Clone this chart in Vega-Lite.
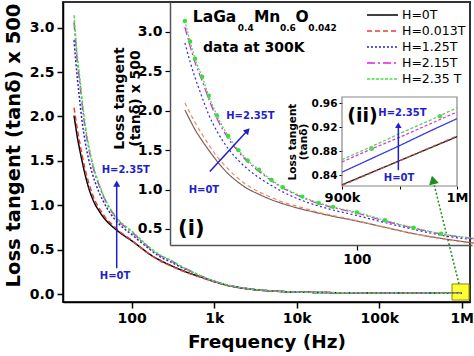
{
  "$schema": "https://vega.github.io/schema/vega-lite/v6.json",
  "width": 407,
  "height": 300,
  "autosize": {"type": "none"},
  "padding": {"left": 63, "top": 2, "right": 4, "bottom": 54},
  "background": "white",
  "config": {
    "view": {"stroke": "#333333", "strokeWidth": 2},
    "font": "DejaVu Sans",
    "axis": {"labelFont": "DejaVu Sans", "titleFont": "DejaVu Sans", "labelFontWeight": "bold", "titleFontWeight": "bold", "labelColor": "#000000", "titleColor": "#000000", "tickColor": "#000000", "domainColor": "#000000", "grid": false, "labelFlush": false, "labelOverlap": false},
    "legend": {"labelFont": "DejaVu Sans", "labelColor": "#000000"}
  },
  "datasets": {
    "curves": [
      {"s":"H=0T","f":20,"v":2.01},{"s":"H=0T","f":21,"v":1.88},{"s":"H=0T","f":22,"v":1.76},{"s":"H=0T","f":23.5,"v":1.62},{"s":"H=0T","f":25,"v":1.5},{"s":"H=0T","f":27,"v":1.36},{"s":"H=0T","f":30,"v":1.2},{"s":"H=0T","f":33,"v":1.09},{"s":"H=0T","f":36,"v":1.01},{"s":"H=0T","f":40,"v":0.94},{"s":"H=0T","f":45,"v":0.87},{"s":"H=0T","f":50,"v":0.82},{"s":"H=0T","f":60,"v":0.75},{"s":"H=0T","f":70,"v":0.7},{"s":"H=0T","f":80,"v":0.66},{"s":"H=0T","f":100,"v":0.6},{"s":"H=0T","f":130,"v":0.52},{"s":"H=0T","f":170,"v":0.44},{"s":"H=0T","f":220,"v":0.38},{"s":"H=0T","f":300,"v":0.32},{"s":"H=0T","f":400,"v":0.27},{"s":"H=0T","f":500,"v":0.235},{"s":"H=0T","f":700,"v":0.19},{"s":"H=0T","f":1000,"v":0.14},{"s":"H=0T","f":1500,"v":0.094},{"s":"H=0T","f":2000,"v":0.072},{"s":"H=0T","f":3000,"v":0.05},{"s":"H=0T","f":5000,"v":0.034},{"s":"H=0T","f":7000,"v":0.027},{"s":"H=0T","f":10000,"v":0.022},{"s":"H=0T","f":20000,"v":0.017},{"s":"H=0T","f":50000,"v":0.013},{"s":"H=0T","f":100000,"v":0.012},{"s":"H=0T","f":200000,"v":0.011},{"s":"H=0T","f":500000,"v":0.01},{"s":"H=0T","f":1000000,"v":0.009},
      {"s":"H=0.013T","f":20,"v":2.1},{"s":"H=0.013T","f":21,"v":1.97},{"s":"H=0.013T","f":22,"v":1.85},{"s":"H=0.013T","f":23.5,"v":1.7},{"s":"H=0.013T","f":25,"v":1.57},{"s":"H=0.013T","f":27,"v":1.42},{"s":"H=0.013T","f":30,"v":1.26},{"s":"H=0.013T","f":33,"v":1.14},{"s":"H=0.013T","f":36,"v":1.05},{"s":"H=0.013T","f":40,"v":0.97},{"s":"H=0.013T","f":45,"v":0.9},{"s":"H=0.013T","f":50,"v":0.84},{"s":"H=0.013T","f":60,"v":0.77},{"s":"H=0.013T","f":70,"v":0.71},{"s":"H=0.013T","f":80,"v":0.67},{"s":"H=0.013T","f":100,"v":0.605},{"s":"H=0.013T","f":130,"v":0.52},{"s":"H=0.013T","f":170,"v":0.44},{"s":"H=0.013T","f":220,"v":0.375},{"s":"H=0.013T","f":300,"v":0.315},{"s":"H=0.013T","f":400,"v":0.265},{"s":"H=0.013T","f":500,"v":0.23},{"s":"H=0.013T","f":700,"v":0.185},{"s":"H=0.013T","f":1000,"v":0.137},{"s":"H=0.013T","f":1500,"v":0.093},{"s":"H=0.013T","f":2000,"v":0.072},{"s":"H=0.013T","f":3000,"v":0.05},{"s":"H=0.013T","f":5000,"v":0.034},{"s":"H=0.013T","f":7000,"v":0.027},{"s":"H=0.013T","f":10000,"v":0.022},{"s":"H=0.013T","f":20000,"v":0.017},{"s":"H=0.013T","f":50000,"v":0.013},{"s":"H=0.013T","f":100000,"v":0.012},{"s":"H=0.013T","f":200000,"v":0.011},{"s":"H=0.013T","f":500000,"v":0.01},{"s":"H=0.013T","f":1000000,"v":0.009},
      {"s":"H=1.25T","f":20,"v":2.86},{"s":"H=1.25T","f":21,"v":2.62},{"s":"H=1.25T","f":22,"v":2.42},{"s":"H=1.25T","f":23.5,"v":2.17},{"s":"H=1.25T","f":25,"v":1.95},{"s":"H=1.25T","f":27,"v":1.74},{"s":"H=1.25T","f":30,"v":1.52},{"s":"H=1.25T","f":33,"v":1.37},{"s":"H=1.25T","f":36,"v":1.26},{"s":"H=1.25T","f":40,"v":1.15},{"s":"H=1.25T","f":45,"v":1.05},{"s":"H=1.25T","f":50,"v":0.97},{"s":"H=1.25T","f":60,"v":0.86},{"s":"H=1.25T","f":70,"v":0.79},{"s":"H=1.25T","f":80,"v":0.74},{"s":"H=1.25T","f":100,"v":0.67},{"s":"H=1.25T","f":130,"v":0.58},{"s":"H=1.25T","f":170,"v":0.495},{"s":"H=1.25T","f":220,"v":0.42},{"s":"H=1.25T","f":300,"v":0.36},{"s":"H=1.25T","f":400,"v":0.3},{"s":"H=1.25T","f":500,"v":0.26},{"s":"H=1.25T","f":700,"v":0.198},{"s":"H=1.25T","f":1000,"v":0.143},{"s":"H=1.25T","f":1500,"v":0.097},{"s":"H=1.25T","f":2000,"v":0.075},{"s":"H=1.25T","f":3000,"v":0.052},{"s":"H=1.25T","f":5000,"v":0.035},{"s":"H=1.25T","f":7000,"v":0.027},{"s":"H=1.25T","f":10000,"v":0.022},{"s":"H=1.25T","f":20000,"v":0.017},{"s":"H=1.25T","f":50000,"v":0.013},{"s":"H=1.25T","f":100000,"v":0.012},{"s":"H=1.25T","f":200000,"v":0.011},{"s":"H=1.25T","f":500000,"v":0.01},{"s":"H=1.25T","f":1000000,"v":0.009},
      {"s":"H=2.15T","f":20,"v":3.06},{"s":"H=2.15T","f":21,"v":2.82},{"s":"H=2.15T","f":22,"v":2.61},{"s":"H=2.15T","f":23.5,"v":2.38},{"s":"H=2.15T","f":25,"v":2.15},{"s":"H=2.15T","f":27,"v":1.9},{"s":"H=2.15T","f":30,"v":1.65},{"s":"H=2.15T","f":33,"v":1.48},{"s":"H=2.15T","f":36,"v":1.35},{"s":"H=2.15T","f":40,"v":1.23},{"s":"H=2.15T","f":45,"v":1.11},{"s":"H=2.15T","f":50,"v":1.02},{"s":"H=2.15T","f":60,"v":0.9},{"s":"H=2.15T","f":70,"v":0.82},{"s":"H=2.15T","f":80,"v":0.77},{"s":"H=2.15T","f":100,"v":0.7},{"s":"H=2.15T","f":130,"v":0.6},{"s":"H=2.15T","f":170,"v":0.51},{"s":"H=2.15T","f":220,"v":0.435},{"s":"H=2.15T","f":300,"v":0.375},{"s":"H=2.15T","f":400,"v":0.31},{"s":"H=2.15T","f":500,"v":0.265},{"s":"H=2.15T","f":700,"v":0.2},{"s":"H=2.15T","f":1000,"v":0.145},{"s":"H=2.15T","f":1500,"v":0.097},{"s":"H=2.15T","f":2000,"v":0.075},{"s":"H=2.15T","f":3000,"v":0.052},{"s":"H=2.15T","f":5000,"v":0.035},{"s":"H=2.15T","f":7000,"v":0.027},{"s":"H=2.15T","f":10000,"v":0.022},{"s":"H=2.15T","f":20000,"v":0.017},{"s":"H=2.15T","f":50000,"v":0.013},{"s":"H=2.15T","f":100000,"v":0.012},{"s":"H=2.15T","f":200000,"v":0.011},{"s":"H=2.15T","f":500000,"v":0.01},{"s":"H=2.15T","f":1000000,"v":0.009},
      {"s":"H=2.35 T","f":20,"v":3.14},{"s":"H=2.35 T","f":21,"v":2.88},{"s":"H=2.35 T","f":22,"v":2.66},{"s":"H=2.35 T","f":23.5,"v":2.43},{"s":"H=2.35 T","f":25,"v":2.19},{"s":"H=2.35 T","f":27,"v":1.94},{"s":"H=2.35 T","f":30,"v":1.68},{"s":"H=2.35 T","f":33,"v":1.5},{"s":"H=2.35 T","f":36,"v":1.37},{"s":"H=2.35 T","f":40,"v":1.25},{"s":"H=2.35 T","f":45,"v":1.12},{"s":"H=2.35 T","f":50,"v":1.03},{"s":"H=2.35 T","f":60,"v":0.91},{"s":"H=2.35 T","f":70,"v":0.83},{"s":"H=2.35 T","f":80,"v":0.78},{"s":"H=2.35 T","f":100,"v":0.71},{"s":"H=2.35 T","f":130,"v":0.61},{"s":"H=2.35 T","f":170,"v":0.515},{"s":"H=2.35 T","f":220,"v":0.44},{"s":"H=2.35 T","f":300,"v":0.38},{"s":"H=2.35 T","f":400,"v":0.31},{"s":"H=2.35 T","f":500,"v":0.265},{"s":"H=2.35 T","f":700,"v":0.2},{"s":"H=2.35 T","f":1000,"v":0.145},{"s":"H=2.35 T","f":1500,"v":0.097},{"s":"H=2.35 T","f":2000,"v":0.075},{"s":"H=2.35 T","f":3000,"v":0.052},{"s":"H=2.35 T","f":5000,"v":0.035},{"s":"H=2.35 T","f":7000,"v":0.027},{"s":"H=2.35 T","f":10000,"v":0.022},{"s":"H=2.35 T","f":20000,"v":0.017},{"s":"H=2.35 T","f":50000,"v":0.013},{"s":"H=2.35 T","f":100000,"v":0.012},{"s":"H=2.35 T","f":200000,"v":0.011},{"s":"H=2.35 T","f":500000,"v":0.01},{"s":"H=2.35 T","f":1000000,"v":0.009}
    ],
    "hf": [
      {"s":"H=0T","f":900000,"v":0.824},{"s":"H=0T","f":925000,"v":0.844},{"s":"H=0T","f":950000,"v":0.864},{"s":"H=0T","f":975000,"v":0.884},{"s":"H=0T","f":1000000,"v":0.904},
      {"s":"H=0.013T","f":900000,"v":0.823},{"s":"H=0.013T","f":925000,"v":0.8435},{"s":"H=0.013T","f":950000,"v":0.864},{"s":"H=0.013T","f":975000,"v":0.8845},{"s":"H=0.013T","f":1000000,"v":0.905},
      {"s":"H=1.25T","f":900000,"v":0.845},{"s":"H=1.25T","f":925000,"v":0.867},{"s":"H=1.25T","f":950000,"v":0.889},{"s":"H=1.25T","f":975000,"v":0.912},{"s":"H=1.25T","f":1000000,"v":0.934},
      {"s":"H=2.15T","f":900000,"v":0.862},{"s":"H=2.15T","f":925000,"v":0.883},{"s":"H=2.15T","f":950000,"v":0.903},{"s":"H=2.15T","f":975000,"v":0.924},{"s":"H=2.15T","f":1000000,"v":0.945},
      {"s":"H=2.35 T","f":900000,"v":0.866},{"s":"H=2.35 T","f":925000,"v":0.887},{"s":"H=2.35 T","f":950000,"v":0.909},{"s":"H=2.35 T","f":975000,"v":0.93},{"s":"H=2.35 T","f":1000000,"v":0.952}
    ],
    "hfm": [
      {"s":"H=2.35 T","f":925800,"v":0.884},{"s":"H=2.35 T","f":985200,"v":0.938}
    ]
  },
  "layer": [
    {
      "layer": [
        {
          "data": {"values": [{}]},
          "mark": {"type": "rect", "fill": "#ffff33", "stroke": "#8c8c00", "strokeWidth": 1},
          "encoding": {"x": {"datum": 763000}, "x2": {"datum": 1226000}, "y": {"datum": 0.113}, "y2": {"datum": -0.068}}
        },
        {
          "data": {"name": "curves"},
          "mark": {"type": "line", "interpolate": "monotone"},
          "encoding": {
            "x": {"field": "f", "type": "quantitative", "scale": {"type": "log", "domain": [14.7, 1260000], "nice": false},
              "axis": {"orient": "bottom", "values": [100, 1000, 10000, 100000, 1000000], "labelExpr": "datum.value >= 1000000 ? '1M' : datum.value >= 1000 ? (datum.value / 1000) + 'k' : '' + datum.value", "labelFontSize": 14, "tickSize": 6, "tickWidth": 1.5, "domainWidth": 1.5, "labelPadding": 3, "title": "Frequency (Hz)", "titleFontSize": 18.5, "titlePadding": 7}},
            "y": {"field": "v", "type": "quantitative", "scale": {"domain": [-0.09, 3.29], "nice": false, "zero": false},
              "axis": {"orient": "left", "values": [0, 0.5, 1, 1.5, 2, 2.5, 3], "format": ".1f", "labelFontSize": 14, "tickSize": 6, "tickWidth": 1.5, "domainWidth": 1.5, "labelPadding": 3, "title": "Loss tangent (tanδ) x 500", "titleFontSize": 19.5, "titlePadding": 6, "titleY": 143}},
            "color": {"field": "s", "type": "nominal",
              "scale": {"domain": ["H=0T", "H=0.013T", "H=1.25T", "H=2.15T", "H=2.35 T"], "range": ["#000000", "#e23b3b", "#2323c8", "#e020e0", "#3de83d"]},
              "legend": {"orient": "none", "legendX": 311, "legendY": 4.5, "title": null, "symbolType": "M-2.07,0H2.07", "symbolSize": 225, "symbolStrokeWidth": 1.5, "labelFontSize": 12.5, "labelFontWeight": "normal", "labelOffset": 11, "rowPadding": 1}},
            "strokeDash": {"field": "s", "type": "nominal",
              "scale": {"domain": ["H=0T", "H=0.013T", "H=1.25T", "H=2.15T", "H=2.35 T"], "range": [[1, 0], [5, 3], [2, 2], [8, 3, 2, 3], [3, 1.5]]},
              "legend": {"orient": "none", "legendX": 311, "legendY": 4.5, "title": null, "symbolType": "M-2.07,0H2.07", "symbolSize": 225, "symbolStrokeWidth": 1.5, "labelFontSize": 12.5, "labelFontWeight": "normal", "labelOffset": 11, "rowPadding": 1}},
            "strokeWidth": {"field": "s", "type": "nominal",
              "scale": {"domain": ["H=0T", "H=0.013T", "H=1.25T", "H=2.15T", "H=2.35 T"], "range": [1.5, 1.5, 2, 2, 3.5]}, "legend": null}
          }
        },
        {
          "data": {"values": [{}]},
          "mark": {"type": "rule", "color": "#1f1fd0", "strokeWidth": 1.5},
          "encoding": {"x": {"datum": 65.8}, "y": {"datum": 0.29}, "y2": {"datum": 1.244}}
        },
        {
          "data": {"values": [{}]},
          "mark": {"type": "point", "shape": "triangle-up", "filled": true, "size": 49, "color": "#1f1fd0", "opacity": 1},
          "encoding": {"x": {"datum": 65.8}, "y": {"datum": 1.244}}
        },
        {
          "data": {"values": [{}]},
          "mark": {"type": "text", "text": "H=2.35T", "font": "DejaVu Sans", "fontWeight": "bold", "fontSize": 10, "color": "#1f1fcc", "align": "center", "baseline": "middle"},
          "encoding": {"x": {"datum": 84.8}, "y": {"datum": 1.396}}
        },
        {
          "data": {"values": [{}]},
          "mark": {"type": "text", "text": "H=0T", "font": "DejaVu Sans", "fontWeight": "bold", "fontSize": 10, "color": "#1f1fcc", "align": "center", "baseline": "middle"},
          "encoding": {"x": {"datum": 62.8}, "y": {"datum": 0.203}}
        },
        {
          "data": {"values": [{}]},
          "mark": {"type": "rule", "color": "#1e8c1e", "strokeWidth": 1.5, "strokeDash": [2, 2]},
          "encoding": {"x": {"datum": 927000}, "y": {"datum": 0.113}, "x2": {"datum": 448000}, "y2": {"datum": 1.285}}
        },
        {
          "data": {"values": [{}]},
          "mark": {"type": "point", "shape": "triangle-up", "filled": true, "size": 100, "angle": -14, "color": "#1e8c1e", "opacity": 1},
          "encoding": {"x": {"datum": 448000}, "y": {"datum": 1.285}}
        }
      ]
    },
    {
      "layer": [
        {
          "data": {"name": "curves"},
          "transform": [{"filter": "datum.f <= 300"}],
          "mark": {"type": "line", "interpolate": "monotone"},
          "encoding": {
            "x": {"field": "f", "type": "quantitative", "scale": {"type": "log", "domain": [17.4, 293.5], "nice": false, "range": [107, 409]},
              "axis": {"orient": "bottom", "offset": -57, "values": [100], "format": "d", "labelFontSize": 13.5, "tickSize": 5, "tickWidth": 1.2, "domainColor": "#555555", "domainWidth": 1.5, "labelPadding": 2, "title": null}},
            "y": {"field": "v", "type": "quantitative", "scale": {"domain": [0.296, 3.38], "nice": false, "zero": false, "range": [243, 0]},
              "axis": {"orient": "left", "offset": -107, "values": [0.5, 1, 1.5, 2, 2.5, 3], "format": ".1f", "labelFontSize": 14, "tickSize": 5, "tickWidth": 1.2, "domainColor": "#555555", "domainWidth": 1.5, "labelPadding": 3, "title": ["Loss tangent", "(tanδ) x 500"], "titleFontSize": 14, "titleLineHeight": 16.5, "titleX": -44, "titleY": 96}},
            "color": {"field": "s", "type": "nominal",
              "scale": {"domain": ["H=0T", "H=0.013T", "H=1.25T", "H=2.15T", "H=2.35 T"], "range": ["#7d5c5c", "#ee8a5a", "#2b2bd6", "#e619e6", "#3ddc3d"]}, "legend": null},
            "strokeDash": {"field": "s", "type": "nominal",
              "scale": {"domain": ["H=0T", "H=0.013T", "H=1.25T", "H=2.15T", "H=2.35 T"], "range": [[1, 0], [4, 3], [2, 2.5], [8, 3, 2, 3], [2, 1.5]]}, "legend": null},
            "strokeWidth": {"field": "s", "type": "nominal",
              "scale": {"domain": ["H=0T", "H=0.013T", "H=1.25T", "H=2.15T", "H=2.35 T"], "range": [1.2, 1.2, 2.5, 2.5, 2.5]}, "legend": null}
          }
        },
        {
          "data": {"name": "curves"},
          "transform": [{"filter": "datum.f < 300 && datum.s == 'H=2.35 T'"}],
          "mark": {"type": "point", "filled": true, "size": 20, "color": "#3ddc3d", "opacity": 1},
          "encoding": {"x": {"field": "f", "type": "quantitative"}, "y": {"field": "v", "type": "quantitative"}}
        },
        {
          "data": {"values": [{}]},
          "mark": {"type": "rule", "color": "#1f1fd0", "strokeWidth": 1.5},
          "encoding": {"x": {"datum": 25.26}, "y": {"datum": 1.229}, "x2": {"datum": 35.93}, "y2": {"datum": 1.748}}
        },
        {
          "data": {"values": [{}]},
          "mark": {"type": "point", "shape": "triangle-up", "filled": true, "size": 49, "angle": 42.7, "color": "#1f1fd0", "opacity": 1},
          "encoding": {"x": {"datum": 35.93}, "y": {"datum": 1.748}}
        },
        {
          "data": {"values": [{}]},
          "mark": {"type": "text", "text": "H=2.35T", "font": "DejaVu Sans", "fontWeight": "bold", "fontSize": 10, "color": "#1f1fcc", "align": "center", "baseline": "middle"},
          "encoding": {"x": {"datum": 36.9}, "y": {"datum": 1.929}}
        },
        {
          "data": {"values": [{}]},
          "mark": {"type": "text", "text": "H=0T", "font": "DejaVu Sans", "fontWeight": "bold", "fontSize": 10, "color": "#1f1fcc", "align": "center", "baseline": "middle"},
          "encoding": {"x": {"datum": 23.9}, "y": {"datum": 0.99}}
        },
        {
          "data": {"values": [{}]},
          "mark": {"type": "text", "text": "(i)", "font": "DejaVu Sans", "fontWeight": "bold", "fontSize": 21, "color": "#000000", "align": "center", "baseline": "middle"},
          "encoding": {"x": {"datum": 21.24}, "y": {"datum": 0.5}}
        },
        {
          "data": {"values": [{}]},
          "mark": {"type": "text", "text": "LaGa", "font": "DejaVu Sans", "fontWeight": "bold", "fontSize": 15.5, "color": "#000000", "align": "left", "baseline": "alphabetic"},
          "encoding": {"x": {"datum": 21.54}, "y": {"datum": 3.121}}
        },
        {
          "data": {"values": [{}]},
          "mark": {"type": "text", "text": "0.4", "font": "DejaVu Sans", "fontWeight": "bold", "fontSize": 9, "color": "#000000", "align": "left", "baseline": "alphabetic"},
          "encoding": {"x": {"datum": 32.83}, "y": {"datum": 3.006}}
        },
        {
          "data": {"values": [{}]},
          "mark": {"type": "text", "text": "Mn", "font": "DejaVu Sans", "fontWeight": "bold", "fontSize": 15.5, "color": "#000000", "align": "left", "baseline": "alphabetic"},
          "encoding": {"x": {"datum": 38.14}, "y": {"datum": 3.121}}
        },
        {
          "data": {"values": [{}]},
          "mark": {"type": "text", "text": "0.6", "font": "DejaVu Sans", "fontWeight": "bold", "fontSize": 9, "color": "#000000", "align": "left", "baseline": "alphabetic"},
          "encoding": {"x": {"datum": 48.64}, "y": {"datum": 3.006}}
        },
        {
          "data": {"values": [{}]},
          "mark": {"type": "text", "text": "O", "font": "DejaVu Sans", "fontWeight": "bold", "fontSize": 15.5, "color": "#000000", "align": "left", "baseline": "alphabetic"},
          "encoding": {"x": {"datum": 56.23}, "y": {"datum": 3.121}}
        },
        {
          "data": {"values": [{}]},
          "mark": {"type": "text", "text": "0.042", "font": "DejaVu Sans", "fontWeight": "bold", "fontSize": 9, "color": "#000000", "align": "left", "baseline": "alphabetic"},
          "encoding": {"x": {"datum": 63.5}, "y": {"datum": 3.006}}
        },
        {
          "data": {"values": [{}]},
          "mark": {"type": "text", "text": "data at 300K", "font": "DejaVu Sans", "fontWeight": "bold", "fontSize": 14, "color": "#000000", "align": "center", "baseline": "alphabetic"},
          "encoding": {"x": {"datum": 38.14}, "y": {"datum": 2.743}}
        }
      ]
    },
    {
      "layer": [
        {
          "data": {"values": [{}]},
          "mark": {"type": "rect", "filled": false, "stroke": "#888888", "strokeWidth": 1.2},
          "encoding": {"x": {"datum": 900000}, "x2": {"datum": 1000000}, "y": {"datum": 0.822}, "y2": {"datum": 0.97}}
        },
        {
          "data": {"name": "hf"},
          "mark": {"type": "line"},
          "encoding": {
            "x": {"field": "f", "type": "quantitative", "scale": {"domain": [900000, 1000000], "nice": false, "zero": false, "range": [279, 394]},
              "axis": {"orient": "bottom", "offset": -116, "values": [900000, 950000, 1000000], "labelExpr": "datum.value == 900000 ? '900k' : datum.value == 1000000 ? '1M' : ''", "labelFontSize": 13, "tickSize": 3, "domain": false, "labelPadding": 2, "title": null}},
            "y": {"field": "v", "type": "quantitative", "scale": {"domain": [0.822, 0.97], "nice": false, "zero": false, "range": [184, 95]},
              "axis": {"orient": "left", "offset": -279, "values": [0.84, 0.88, 0.92, 0.96], "format": ".2f", "labelFontSize": 10.5, "tickSize": 3, "domain": false, "labelPadding": 2, "title": ["Loss tangent", "(tanδ)"], "titleFontSize": 10.5, "titleLineHeight": 11, "titlePadding": 3}},
            "color": {"field": "s", "type": "nominal",
              "scale": {"domain": ["H=0T", "H=0.013T", "H=1.25T", "H=2.15T", "H=2.35 T"], "range": ["#1a1a1a", "#c0504d", "#3b3bdb", "#d63ad6", "#5ccf5c"]}, "legend": null},
            "strokeDash": {"field": "s", "type": "nominal",
              "scale": {"domain": ["H=0T", "H=0.013T", "H=1.25T", "H=2.15T", "H=2.35 T"], "range": [[1, 0], [4, 3], [1, 0], [3, 2], [3, 2]]}, "legend": null},
            "strokeWidth": {"field": "s", "type": "nominal",
              "scale": {"domain": ["H=0T", "H=0.013T", "H=1.25T", "H=2.15T", "H=2.35 T"], "range": [1.3, 1.3, 1.3, 1.5, 1.3]}, "legend": null}
          }
        },
        {
          "data": {"name": "hfm"},
          "mark": {"type": "point", "filled": true, "size": 22, "color": "#5ccf5c", "opacity": 1},
          "encoding": {"x": {"field": "f", "type": "quantitative"}, "y": {"field": "v", "type": "quantitative"}}
        },
        {
          "data": {"values": [{}]},
          "mark": {"type": "rule", "color": "#1f1fd0", "strokeWidth": 1.5},
          "encoding": {"x": {"datum": 949000}, "y": {"datum": 0.8483}, "y2": {"datum": 0.923}}
        },
        {
          "data": {"values": [{}]},
          "mark": {"type": "point", "shape": "triangle-up", "filled": true, "size": 42, "color": "#1f1fd0", "opacity": 1},
          "encoding": {"x": {"datum": 949000}, "y": {"datum": 0.923}}
        },
        {
          "data": {"values": [{}]},
          "mark": {"type": "text", "text": "H=2.35T", "font": "DejaVu Sans", "fontWeight": "bold", "fontSize": 10, "color": "#1f1fcc", "align": "center", "baseline": "middle"},
          "encoding": {"x": {"datum": 952600}, "y": {"datum": 0.9428}}
        },
        {
          "data": {"values": [{}]},
          "mark": {"type": "text", "text": "H=0T", "font": "DejaVu Sans", "fontWeight": "bold", "fontSize": 10, "color": "#1f1fcc", "align": "center", "baseline": "middle"},
          "encoding": {"x": {"datum": 949600}, "y": {"datum": 0.8345}}
        },
        {
          "data": {"values": [{}]},
          "mark": {"type": "text", "text": "(ii)", "font": "DejaVu Sans", "fontWeight": "bold", "fontSize": 19, "color": "#000000", "align": "center", "baseline": "middle"},
          "encoding": {"x": {"datum": 917800}, "y": {"datum": 0.9383}}
        }
      ]
    }
  ],
  "resolve": {
    "scale": {"x": "independent", "y": "independent", "color": "independent", "strokeDash": "independent", "strokeWidth": "independent"},
    "axis": {"x": "independent", "y": "independent"}
  }
}
